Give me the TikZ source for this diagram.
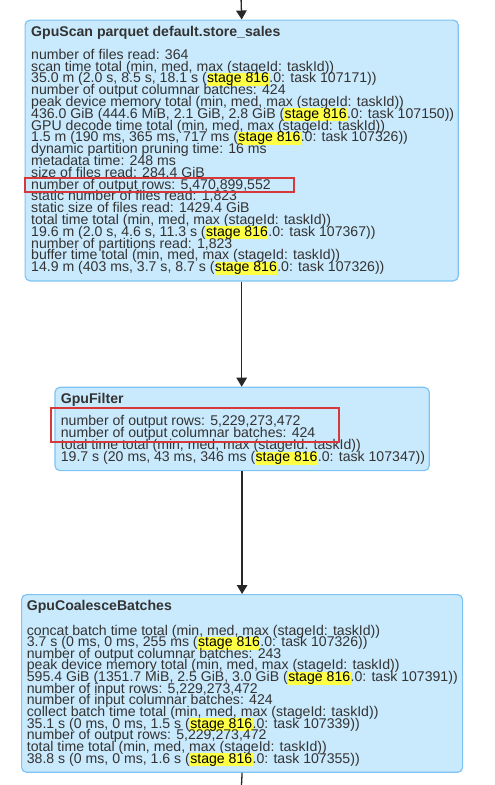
\documentclass[tikz,border=0pt]{standalone}
\usepackage{fontspec}
\setmainfont{Liberation Sans}
\usetikzlibrary{arrows.meta}
\definecolor{boxfill}{RGB}{201,233,252}
\definecolor{boxline}{RGB}{125,196,245}
\definecolor{txtcol}{RGB}{51,51,51}
\definecolor{hly}{RGB}{255,255,68}
\definecolor{redline}{RGB}{217,56,58}
\definecolor{arrcol}{RGB}{40,40,40}
\newcommand\hlt[1]{{\setlength{\fboxsep}{0pt}\colorbox{hly}{\color{black}\kern0.4pt\rule[-2pt]{0pt}{12pt}#1\kern0.4pt}}}
\begin{document}
\begin{tikzpicture}[x=1pt,y=-1pt,
  opbox/.style={draw=boxline, line width=1.2pt, fill=boxfill, rounded corners=5pt, anchor=north west, inner sep=0pt},
  txt/.style={anchor=base west, inner sep=0pt, text height=8.8pt, text depth=2pt, text=txtcol, font=\fontsize{14.1pt}{11.8pt}\selectfont},
  ttl/.style={txt, font=\fontsize{14.1pt}{11.8pt}\selectfont\bfseries},
  conn/.style={draw=arrcol, line width=1.3pt, -{Triangle[length=9pt,width=10.5pt]}},
  redbox/.style={draw=redline, line width=1.8pt}]
\useasboundingbox (0,0) rectangle (495,785);
% boxes
\node[opbox, minimum width=433.2pt, minimum height=260.8pt] (scan) at (24.5,19.5) {};
\node[opbox, minimum width=374.4pt, minimum height=83.3pt] (filter) at (54.3,386.7) {};
\node[opbox, minimum width=441pt, minimum height=177.7pt] (coal) at (21,594) {};
% scan text
\node[ttl] (scanT) at (31,36) {GpuScan parquet default.store\_sales};
\foreach \t [count=\i] in {
 {number of files read: 364},
 {scan time total (min, med, max (stageId: taskId))},
 {35.0 m (2.0 s, 8.5 s, 18.1 s (\hlt{stage 816}.0: task 107171))},
 {number of output columnar batches: 424},
 {peak device memory total (min, med, max (stageId: taskId))},
 {436.0 GiB (444.6 MiB, 2.1 GiB, 2.8 GiB (\hlt{stage 816}.0: task 107150))},
 {GPU decode time total (min, med, max (stageId: taskId))},
 {1.5 m (190 ms, 365 ms, 717 ms (\hlt{stage 816}.0: task 107326))},
 {dynamic partition pruning time: 16 ms},
 {metadata time: 248 ms},
 {size of files read: 284.4 GiB},
 {number of output rows: 5,470,899,552},
 {static number of files read: 1,823},
 {static size of files read: 1429.4 GiB},
 {total time total (min, med, max (stageId: taskId))},
 {19.6 m (2.0 s, 4.6 s, 11.3 s (\hlt{stage 816}.0: task 107367))},
 {number of partitions read: 1,823},
 {buffer time total (min, med, max (stageId: taskId))},
 {14.9 m (403 ms, 3.7 s, 8.7 s (\hlt{stage 816}.0: task 107326))}}
 {\node[txt] (scanL\i) at (31,{59.3+(\i-1)*11.8}) {\t};}
\draw[redbox] (24.7,177.7) rectangle (294,192.3);
% filter text
\node[ttl] (filterT) at (60.7,403.3) {GpuFilter};
\foreach \t [count=\i] in {
 {number of output rows: 5,229,273,472},
 {number of output columnar batches: 424},
 {total time total (min, med, max (stageId: taskId))},
 {19.7 s (20 ms, 43 ms, 346 ms (\hlt{stage 816}.0: task 107347))}}
 {\node[txt] (filterL\i) at (60.7,{425.9+(\i-1)*11.9}) {\t};}
\draw[redbox] (51,407.7) rectangle (339,442.3);
% coalesce text
\node[ttl] (coalT) at (26.7,610) {GpuCoalesceBatches};
\foreach \t [count=\i] in {
 {concat batch time total (min, med, max (stageId: taskId))},
 {3.7 s (0 ms, 0 ms, 255 ms (\hlt{stage 816}.0: task 107326))},
 {number of output columnar batches: 243},
 {peak device memory total (min, med, max (stageId: taskId))},
 {595.4 GiB (1351.7 MiB, 2.5 GiB, 3.0 GiB (\hlt{stage 816}.0: task 107391))},
 {number of input rows: 5,229,273,472},
 {number of input columnar batches: 424},
 {collect batch time total (min, med, max (stageId: taskId))},
 {35.1 s (0 ms, 0 ms, 1.5 s (\hlt{stage 816}.0: task 107339))},
 {number of output rows: 5,229,273,472},
 {total time total (min, med, max (stageId: taskId))},
 {38.8 s (0 ms, 0 ms, 1.6 s (\hlt{stage 816}.0: task 107355))}}
 {\node[txt] (coalL\i) at (26.7,{635+(\i-1)*11.66}) {\t};}
% connectors
\coordinate (topin) at (241.1,0);
\coordinate (botout) at (241.5,785);
\draw[conn] (topin) -- (scan.north);
\draw[conn] (scan.south) -- (scan.south |- filter.north);
\draw[conn] (filter.south) -- (filter.south |- coal.north);
\draw[draw=arrcol, line width=1.3pt] (coal.south) -- (botout);
\end{tikzpicture}
\end{document}
